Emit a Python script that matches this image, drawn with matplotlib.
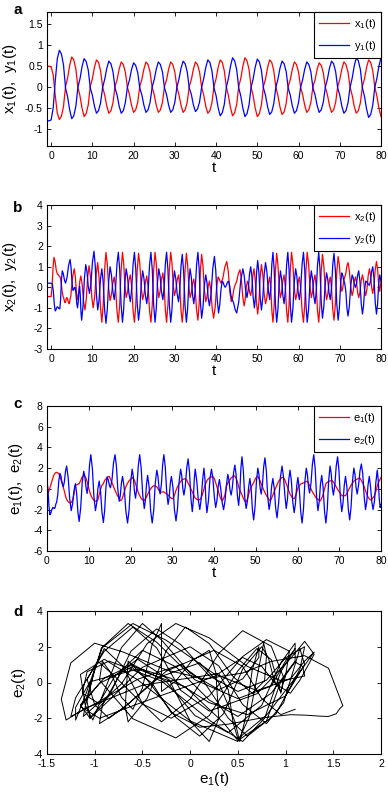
import numpy as np
import matplotlib
matplotlib.use("Agg")
import matplotlib.pyplot as plt
from matplotlib.ticker import FuncFormatter

plt.rcParams["font.family"] = ["Liberation Sans", "DejaVu Sans"]
plt.rcParams["mathtext.fontset"] = "custom"
plt.rcParams["mathtext.rm"] = "Liberation Sans"
plt.rcParams["mathtext.it"] = "Liberation Sans:italic"
plt.rcParams["axes.unicode_minus"] = False

# ------------------------------
# Panel a: x1(t), y1(t), sampled every 0.5 from t=-1 to t=80
# ------------------------------
t_a_start, t_a_step = -1.0, 0.5
x1_vals = [
    0.50, 0.50, 0.48, 0.30, -0.20, -0.62,
    -0.77, -0.69, -0.46, 0.02, 0.22, 0.52, 0.72, 0.65, 0.43, 0.00, -0.21, -0.50,
    -0.70, -0.63, -0.42, 0.02, 0.20, 0.47, 0.65, 0.59, 0.39, 0.00, -0.19, -0.45,
    -0.62, -0.56, -0.37, 0.02, 0.18, 0.43, 0.60, 0.54, 0.36, 0.00, -0.18, -0.43,
    -0.60, -0.54, -0.36, 0.02, 0.18, 0.43, 0.60, 0.54, 0.36, 0.00, -0.18, -0.43,
    -0.60, -0.54, -0.36, 0.02, 0.18, 0.43, 0.60, 0.54, 0.36, 0.00, -0.18, -0.43,
    -0.60, -0.54, -0.36, 0.02, 0.18, 0.43, 0.60, 0.54, 0.36, 0.00, -0.19, -0.45,
    -0.62, -0.56, -0.37, 0.02, 0.20, 0.47, 0.65, 0.59, 0.39, 0.00, -0.20, -0.49,
    -0.68, -0.61, -0.41, 0.02, 0.21, 0.50, 0.70, 0.63, 0.42, 0.00, -0.21, -0.50,
    -0.70, -0.63, -0.42, 0.02, 0.20, 0.47, 0.65, 0.59, 0.39, 0.00, -0.20, -0.47,
    -0.65, -0.59, -0.39, 0.02, 0.18, 0.43, 0.60, 0.54, 0.36, 0.00, -0.18, -0.43,
    -0.60, -0.54, -0.36, 0.02, 0.17, 0.42, 0.58, 0.52, 0.35, 0.00, -0.18, -0.43,
    -0.60, -0.54, -0.36, 0.02, 0.18, 0.43, 0.60, 0.54, 0.36, 0.00, -0.19, -0.45,
    -0.62, -0.56, -0.37, 0.02, 0.20, 0.47, 0.65, 0.59, 0.39, 0.00, -0.21, -0.50,
    -0.70,
]
y1_vals = [
    -0.80, -0.80, -0.78, -0.50, 0.15, 0.68,
    0.88, 0.79, 0.53, -0.02, -0.23, -0.54, -0.75, -0.68, -0.45, 0.00, 0.20, 0.49,
    0.68, 0.61, 0.41, -0.02, -0.19, -0.45, -0.62, -0.56, -0.37, 0.00, 0.19, 0.45,
    0.62, 0.56, 0.37, -0.02, -0.19, -0.45, -0.62, -0.56, -0.37, 0.00, 0.17, 0.42,
    0.58, 0.52, 0.35, -0.02, -0.18, -0.43, -0.60, -0.54, -0.36, 0.00, 0.18, 0.43,
    0.60, 0.54, 0.36, -0.02, -0.18, -0.43, -0.60, -0.54, -0.36, 0.00, 0.19, 0.45,
    0.62, 0.56, 0.37, -0.02, -0.17, -0.42, -0.58, -0.52, -0.35, 0.00, 0.20, 0.47,
    0.65, 0.59, 0.39, -0.02, -0.20, -0.49, -0.68, -0.61, -0.41, 0.00, 0.21, 0.50,
    0.70, 0.63, 0.42, -0.02, -0.21, -0.50, -0.70, -0.63, -0.42, 0.00, 0.20, 0.48,
    0.67, 0.60, 0.40, -0.02, -0.20, -0.47, -0.65, -0.59, -0.39, 0.00, 0.19, 0.45,
    0.62, 0.56, 0.37, -0.02, -0.19, -0.45, -0.62, -0.56, -0.37, 0.00, 0.18, 0.43,
    0.60, 0.54, 0.36, -0.02, -0.18, -0.43, -0.60, -0.54, -0.36, 0.00, 0.19, 0.45,
    0.62, 0.56, 0.37, -0.02, -0.19, -0.45, -0.62, -0.56, -0.37, 0.00, 0.21, 0.50,
    0.70, 0.63, 0.42, -0.02, -0.22, -0.52, -0.72, -0.65, -0.43, 0.00, 0.21, 0.50,
    0.70,
]

# ------------------------------
# Panel b: x2(t), y2(t) as (t, value) points
# ------------------------------
x2_pts = [
    (-1, -0.45), (0, -0.45), (0.23, 0.03), (0.47, 0.98), (0.7, 1.45), (0.97, 1.25),
    (1.23, 0.85), (1.5, 0.65), (1.73, 0.61), (1.97, 0.54), (2.2, 0.5), (2.43, 0.26),
    (2.67, -0.21), (2.9, -0.45), (3.07, -0.53), (3.23, -0.68), (3.4, -0.75), (3.53, -0.69),
    (3.67, -0.56), (3.8, -0.5), (4.0, -0.58), (4.2, -0.73), (4.4, -0.8), (4.8, -0.38),
    (5.2, 0.48), (5.6, 0.9), (5.87, 0.53), (6.13, -0.23), (6.4, -0.6), (6.67, -0.31),
    (6.93, 0.26), (7.2, 0.55), (7.53, 0.14), (7.87, -0.69), (8.2, -1.1), (8.53, -0.56),
    (8.87, 0.51), (9.2, 1.05), (9.53, 0.54), (9.87, -0.49), (10.2, -1.0), (10.57, -0.45),
    (10.93, 0.65), (11.3, 1.2), (11.63, 0.48), (11.97, -0.98), (12.3, -1.7), (12.63, -0.85),
    (12.97, 0.85), (13.3, 1.7), (13.63, 1.11), (13.97, -0.06), (14.3, -0.65), (14.63, -0.36),
    (14.97, 0.21), (15.3, 0.5), (15.63, -0.05), (15.97, -1.15), (16.3, -1.7), (16.63, -0.85),
    (16.97, 0.85), (17.3, 1.7), (17.6, 1.15), (17.9, 0.05), (18.2, -0.5), (18.53, -0.23),
    (18.87, 0.33), (19.2, 0.6), (19.53, 0.03), (19.87, -1.13), (20.2, -1.7), (20.53, -0.86),
    (20.87, 0.81), (21.2, 1.65), (21.53, 1.09), (21.87, -0.04), (22.2, -0.6), (22.53, -0.31),
    (22.87, 0.26), (23.2, 0.55), (23.53, -0.01), (23.87, -1.14), (24.2, -1.7), (24.53, -0.85),
    (24.87, 0.85), (25.2, 1.7), (25.5, 1.15), (25.8, 0.05), (26.1, -0.5), (26.43, -0.2),
    (26.77, 0.4), (27.1, 0.7), (27.4, 0.1), (27.7, -1.1), (28.0, -1.7), (28.33, -0.85),
    (28.67, 0.85), (29.0, 1.7), (29.3, 1.18), (29.6, 0.13), (29.9, -0.4), (30.23, -0.15),
    (30.57, 0.35), (30.9, 0.6), (31.2, 0.03), (31.5, -1.13), (31.8, -1.7), (32.13, -0.86),
    (32.47, 0.81), (32.8, 1.65), (33.1, 1.11), (33.4, 0.04), (33.7, -0.5), (34.0, -0.28),
    (34.3, 0.18), (34.6, 0.4), (34.93, -0.1), (35.27, -1.1), (35.6, -1.6), (35.9, -0.8),
    (36.2, 0.8), (36.5, 1.6), (36.83, 1.03), (37.17, -0.13), (37.5, -0.7), (37.8, -0.45),
    (38.1, 0.05), (38.4, 0.3), (38.73, -0.15), (39.07, -1.05), (39.4, -1.5), (39.77, -1.0),
    (40.13, 0.0), (40.5, 0.5), (40.73, 0.43), (40.97, 0.28), (41.2, 0.2), (41.67, 0.46),
    (42.13, 0.99), (42.6, 1.25), (42.97, 0.76), (43.33, -0.21), (43.7, -0.7), (44.0, -0.5),
    (44.3, -0.1), (44.6, 0.1), (45.0, 0.29), (45.4, 0.66), (45.8, 0.85), (46.13, 0.41),
    (46.47, -0.46), (46.8, -0.9), (47.07, -0.6), (47.33, 0.0), (47.6, 0.3), (47.87, 0.13),
    (48.13, -0.23), (48.4, -0.4), (48.67, -0.08), (48.93, 0.58), (49.2, 0.9), (49.5, 0.35),
    (49.8, -0.75), (50.1, -1.3), (50.4, -0.7), (50.7, 0.5), (51.0, 1.1), (51.33, 0.63),
    (51.67, -0.33), (52.0, -0.8), (52.33, -0.48), (52.67, 0.18), (53.0, 0.5), (53.27, -0.05),
    (53.53, -1.15), (53.8, -1.7), (54.1, -0.86), (54.4, 0.81), (54.7, 1.65), (55.0, 1.11),
    (55.3, 0.04), (55.6, -0.5), (55.9, -0.23), (56.2, 0.33), (56.5, 0.6), (56.8, 0.03),
    (57.1, -1.13), (57.4, -1.7), (57.7, -0.85), (58.0, 0.85), (58.3, 1.7), (58.63, 1.13),
    (58.97, -0.03), (59.3, -0.6), (59.6, -0.33), (59.9, 0.23), (60.2, 0.5), (60.53, -0.05),
    (60.87, -1.15), (61.2, -1.7), (61.5, -0.85), (61.8, 0.85), (62.1, 1.7), (62.43, 1.15),
    (62.77, 0.05), (63.1, -0.5), (63.4, -0.23), (63.7, 0.33), (64.0, 0.6), (64.3, 0.03),
    (64.6, -1.13), (64.9, -1.7), (65.2, -0.88), (65.5, 0.78), (65.8, 1.6), (66.13, 1.05),
    (66.47, -0.05), (66.8, -0.6), (67.1, -0.33), (67.4, 0.23), (67.7, 0.5), (68.0, -0.03),
    (68.3, -1.08), (68.6, -1.6), (68.93, -0.83), (69.27, 0.73), (69.6, 1.5), (69.9, 1.08),
    (70.2, 0.23), (70.5, -0.2), (70.73, -0.03), (70.97, 0.33), (71.2, 0.5), (71.47, 0.68),
    (71.73, 1.03), (72.0, 1.2), (72.33, 0.8), (72.67, 0.0), (73.0, -0.4), (73.27, -0.18),
    (73.53, 0.28), (73.8, 0.5), (74.07, 0.25), (74.33, -0.25), (74.6, -0.5), (74.9, -0.23),
    (75.2, 0.33), (75.5, 0.6), (75.77, 0.35), (76.03, -0.15), (76.3, -0.4), (76.6, -0.08),
    (76.9, 0.58), (77.2, 0.9), (77.47, 0.6), (77.73, 0.0), (78.0, -0.3), (78.3, 0.09),
    (78.6, 0.86), (78.9, 1.25), (79.17, 0.89), (79.43, 0.16), (79.7, -0.2), (80.0, 0.3),
]
y2_pts = [
    (-1, 0.2), (0, 0.2), (0.3, 0.15), (0.53, -0.18), (0.77, -0.83), (1.0, -1.15),
    (1.17, -1.1), (1.33, -1.0), (1.5, -0.95), (1.7, -0.98), (1.9, -1.03), (2.1, -1.05),
    (2.3, -0.59), (2.5, 0.34), (2.7, 0.8), (2.97, 0.65), (3.23, 0.35), (3.5, 0.2),
    (3.87, 0.49), (4.23, 1.06), (4.6, 1.35), (4.83, 0.98), (5.07, 0.23), (5.3, -0.15),
    (5.47, -0.11), (5.63, -0.04), (5.8, 0.0), (6.0, -0.25), (6.2, -0.75), (6.4, -1.0),
    (6.57, -0.74), (6.73, -0.21), (6.9, 0.05), (7.07, -0.36), (7.23, -1.19), (7.4, -1.6),
    (7.73, -0.93), (8.07, 0.43), (8.4, 1.1), (8.7, 0.75), (9.0, 0.05), (9.3, -0.3),
    (9.67, 0.21), (10.03, 1.24), (10.4, 1.75), (10.7, 1.04), (11.0, -0.39), (11.3, -1.1),
    (11.63, -0.6), (11.97, 0.4), (12.3, 0.9), (12.63, 0.24), (12.97, -1.09), (13.3, -1.75),
    (13.63, -1.06), (13.97, 0.31), (14.3, 1.0), (14.63, 0.6), (14.97, -0.2), (15.3, -0.6),
    (15.63, -0.03), (15.97, 1.13), (16.3, 1.7), (16.63, 0.85), (16.97, -0.85), (17.3, -1.7),
    (17.6, -1.05), (17.9, 0.25), (18.2, 0.9), (18.53, 0.5), (18.87, -0.3), (19.2, -0.7),
    (19.53, -0.1), (19.87, 1.1), (20.2, 1.7), (20.53, 0.88), (20.87, -0.78), (21.2, -1.6),
    (21.53, -1.0), (21.87, 0.2), (22.2, 0.8), (22.53, 0.4), (22.87, -0.4), (23.2, -0.8),
    (23.53, -0.18), (23.87, 1.08), (24.2, 1.7), (24.53, 0.85), (24.87, -0.85), (25.2, -1.7),
    (25.5, -1.05), (25.8, 0.25), (26.1, 0.9), (26.43, 0.53), (26.77, -0.23), (27.1, -0.6),
    (27.4, -0.03), (27.7, 1.13), (28.0, 1.7), (28.33, 0.85), (28.67, -0.85), (29.0, -1.7),
    (29.3, -1.08), (29.6, 0.18), (29.9, 0.8), (30.23, 0.43), (30.57, -0.33), (30.9, -0.7),
    (31.2, -0.13), (31.5, 1.03), (31.8, 1.6), (32.13, 0.78), (32.47, -0.88), (32.8, -1.7),
    (33.1, -1.05), (33.4, 0.25), (33.7, 0.9), (34.0, 0.48), (34.3, -0.38), (34.6, -0.8),
    (34.93, -0.18), (35.27, 1.08), (35.6, 1.7), (35.9, 0.9), (36.2, -0.7), (36.5, -1.5),
    (36.83, -0.98), (37.17, 0.08), (37.5, 0.6), (37.8, 0.23), (38.1, -0.53), (38.4, -0.9),
    (38.8, -0.3), (39.2, 0.9), (39.6, 1.5), (39.93, 0.81), (40.27, -0.56), (40.6, -1.25),
    (40.9, -0.86), (41.2, -0.09), (41.5, 0.3), (41.73, 0.23), (41.97, 0.08), (42.2, 0.0),
    (42.47, 0.08), (42.73, 0.23), (43.0, 0.3), (43.3, 0.08), (43.6, -0.38), (43.9, -0.6),
    (44.27, -0.76), (44.63, -1.09), (45.0, -1.25), (45.5, -0.71), (46.0, 0.36), (46.5, 0.9),
    (46.83, 0.55), (47.17, -0.15), (47.5, -0.5), (47.8, -0.13), (48.1, 0.63), (48.4, 1.0),
    (48.7, 0.5), (49.0, -0.5), (49.3, -1.0), (49.57, -0.43), (49.83, 0.73), (50.1, 1.3),
    (50.4, 0.7), (50.7, -0.5), (51.0, -1.1), (51.33, -0.53), (51.67, 0.63), (52.0, 1.2),
    (52.33, 0.75), (52.67, -0.15), (53.0, -0.6), (53.27, -0.03), (53.53, 1.13), (53.8, 1.7),
    (54.1, 0.85), (54.4, -0.85), (54.7, -1.7), (55.0, -1.08), (55.3, 0.18), (55.6, 0.8),
    (55.9, 0.4), (56.2, -0.4), (56.5, -0.8), (56.8, -0.18), (57.1, 1.08), (57.4, 1.7),
    (57.7, 0.85), (58.0, -0.85), (58.3, -1.7), (58.63, -1.05), (58.97, 0.25), (59.3, 0.9),
    (59.6, 0.53), (59.9, -0.23), (60.2, -0.6), (60.53, -0.03), (60.87, 1.13), (61.2, 1.7),
    (61.5, 0.85), (61.8, -0.85), (62.1, -1.7), (62.43, -1.08), (62.77, 0.18), (63.1, 0.8),
    (63.4, 0.4), (63.7, -0.4), (64.0, -0.8), (64.3, -0.18), (64.6, 1.08), (64.9, 1.7),
    (65.2, 0.9), (65.5, -0.7), (65.8, -1.5), (66.13, -0.95), (66.47, 0.15), (66.8, 0.7),
    (67.1, 0.38), (67.4, -0.28), (67.7, -0.6), (68.0, -0.04), (68.3, 1.09), (68.6, 1.65),
    (68.93, 0.84), (69.27, -0.79), (69.6, -1.6), (69.9, -1.03), (70.2, 0.13), (70.5, 0.7),
    (70.73, 0.58), (70.97, 0.33), (71.2, 0.2), (71.47, -0.2), (71.73, -1.0), (72.0, -1.4),
    (72.33, -0.9), (72.67, 0.1), (73.0, 0.6), (73.27, 0.45), (73.53, 0.15), (73.8, 0.0),
    (74.07, 0.2), (74.33, 0.6), (74.6, 0.8), (74.9, 0.28), (75.2, -0.78), (75.5, -1.3),
    (75.77, -0.9), (76.03, -0.1), (76.3, 0.3), (76.6, 0.25), (76.9, 0.15), (77.2, 0.1),
    (77.47, 0.33), (77.73, 0.78), (78.0, 1.0), (78.3, 0.43), (78.6, -0.73), (78.9, -1.3),
    (79.17, -0.83), (79.43, 0.13), (79.7, 0.6), (80.0, 0.3),
]

# ------------------------------
# Panels c and d: errors as (t, e1, e2)
# ------------------------------
err_pts = [
    (0.0, -0.6, 0.8), (0.23, -0.4, -0.03), (0.47, -0.2, -1.68), (0.7, 0.1, -2.5),
    (0.93, 0.4, -2.33), (1.17, 0.75, -1.98), (1.4, 1.05, -1.8), (1.53, 1.22, -1.83),
    (1.67, 1.35, -1.88), (1.8, 1.45, -1.9), (1.97, 1.53, -1.75), (2.13, 1.57, -1.45),
    (2.3, 1.6, -1.3), (2.57, 1.55, -0.6), (2.83, 1.45, 0.8), (3.1, 1.2, 1.5),
    (3.37, 0.85, 1.18), (3.63, 0.55, 0.53), (3.9, 0.15, 0.2), (4.17, -0.25, 0.7),
    (4.43, -0.7, 1.7), (4.7, -1.0, 2.2), (5.07, -1.25, 1.1), (5.43, -1.35, -0.93),
    (5.8, -1.3, -2.1), (6.13, -1.1, -1.45), (6.47, -0.5, -0.15), (6.8, 0.3, 0.5),
    (7.1, 0.4, -0.41), (7.4, 0.45, -2.24), (7.7, 0.5, -3.15), (8.07, 0.8, -1.83),
    (8.43, 1.15, 0.6), (8.8, 1.3, 1.7), (9.07, 1.2, 1.2), (9.33, 1.05, 0.2),
    (9.6, 0.7, -0.45), (9.9, 0.25, 0.49), (10.2, -0.25, 2.36), (10.5, -0.6, 3.3),
    (10.87, -0.92, 1.95), (11.23, -1.1, -0.75), (11.6, -1.2, -2.1), (11.9, -1.2, -1.39),
    (12.2, -1.05, 0.04), (12.5, -0.55, 0.75), (12.83, -0.05, -0.25), (13.17, 0.35, -2.25),
    (13.5, 0.5, -3.25), (13.8, 0.8, -2.15), (14.1, 0.95, 0.05), (14.4, 1.1, 1.15),
    (14.67, 1.18, 0.89), (14.93, 1.2, 0.36), (15.2, 0.95, 0.1), (15.57, 0.6, 0.9),
    (15.93, 0.2, 2.5), (16.3, -0.15, 3.3), (16.63, -0.45, 2.18), (16.97, -0.72, -0.08),
    (17.3, -0.95, -1.2), (17.57, -1.13, -0.6), (17.83, -1.08, 0.6), (18.1, -0.85, 1.2),
    (18.5, -0.3, 0.08), (18.9, 0.22, -2.18), (19.3, 0.55, -3.3), (19.67, 0.78, -2.0),
    (20.03, 0.95, 0.6), (20.4, 1.1, 1.9), (20.67, 1.0, 1.2), (20.93, 0.85, -0.2),
    (21.2, 0.5, -0.9), (21.53, 0.05, 0.15), (21.87, -0.35, 2.25), (22.2, -0.65, 3.3),
    (22.57, -0.93, 1.93), (22.93, -1.07, -0.6), (23.3, -1.12, -1.9), (23.57, -0.95, -1.1),
    (23.83, -0.78, 0.43), (24.1, -0.55, 1.3), (24.47, -0.22, 0.15), (24.83, 0.0, -2.15),
    (25.2, 0.2, -3.3), (25.57, 0.3, -2.03), (25.93, 0.27, 0.53), (26.3, 0.2, 1.8),
    (26.57, 0.02, 1.23), (26.83, -0.15, 0.08), (27.1, -0.3, -0.5), (27.4, -0.3, 0.45),
    (27.7, -0.3, 2.35), (28.0, -0.3, 3.3), (28.33, -0.4, 2.1), (28.67, -0.5, -0.3),
    (29.0, -0.6, -1.5), (29.27, -0.72, -0.83), (29.53, -0.83, 0.53), (29.8, -0.92, 1.2),
    (30.17, -0.95, 0.13), (30.53, -0.6, -2.03), (30.9, -0.15, -3.1), (31.27, 0.2, -1.85),
    (31.63, 0.5, 0.65), (32.0, 0.7, 1.9), (32.27, 0.85, 1.28), (32.53, 0.92, 0.03),
    (32.8, 0.95, -0.6), (33.13, 0.98, 0.28), (33.47, 0.85, 2.03), (33.8, 0.55, 2.9),
    (34.13, 0.3, 1.63), (34.47, 0.0, -0.93), (34.8, -0.3, -2.2), (35.03, -0.5, -1.18),
    (35.27, -0.7, 0.88), (35.5, -0.9, 1.9), (35.87, -1.0, 0.78), (36.23, -1.08, -1.05),
    (36.6, -1.05, -2.0), (36.93, -0.85, -1.0), (37.27, -0.5, 0.85), (37.6, 0.0, 2.0),
    (37.83, 0.3, 0.93), (38.07, 0.55, -1.23), (38.3, 0.8, -2.3), (38.67, 0.98, -1.13),
    (39.03, 1.1, 1.0), (39.4, 1.15, 1.9), (39.73, 1.2, 1.0), (40.07, 1.0, -0.75),
    (40.4, 0.6, -1.8), (40.7, 0.2, -1.13), (41.0, -0.2, 0.23), (41.3, -0.6, 0.9),
    (41.63, -0.95, -0.05), (41.97, -1.15, -1.35), (42.3, -0.95, -2.0), (42.63, -0.55, -1.2),
    (42.97, 0.25, 0.33), (43.3, 0.55, 1.4), (43.57, 0.75, 0.9), (43.83, 0.9, -0.1),
    (44.1, 1.05, -0.6), (44.4, 1.15, 0.13), (44.7, 1.3, 1.58), (45.0, 1.2, 2.3),
    (45.3, 1.05, 1.33), (45.6, 0.7, -0.63), (45.9, 0.2, -1.6), (46.17, -0.1, -0.43),
    (46.43, -0.35, 1.93), (46.7, -0.6, 3.1), (47.03, -0.9, 1.75), (47.37, -1.2, -0.85),
    (47.7, -1.25, -1.9), (48.0, -1.0, -1.2), (48.3, -0.55, 0.18), (48.6, -0.1, 1.0),
    (48.9, 0.15, 0.0), (49.2, 0.4, -2.0), (49.5, 0.6, -3.0), (49.83, 0.9, -1.75),
    (50.17, 1.15, 0.75), (50.5, 1.2, 2.0), (50.77, 1.0, 1.38), (51.03, 0.8, 0.13),
    (51.3, 0.5, -0.5), (51.6, 0.2, 0.38), (51.9, -0.1, 2.13), (52.2, -0.35, 3.0),
    (52.53, -0.62, 1.75), (52.87, -0.85, -0.75), (53.2, -1.05, -2.0), (53.5, -1.15, -1.25),
    (53.8, -0.9, 0.25), (54.1, -0.6, 1.0), (54.43, -0.25, 0.05), (54.77, 0.05, -1.85),
    (55.1, 0.4, -2.8), (55.5, 0.75, -1.28), (55.9, 0.95, 1.1), (56.3, 1.1, 2.2),
    (56.63, 1.1, 1.2), (56.97, 0.85, -0.6), (57.3, 0.5, -1.9), (57.6, 0.2, -0.98),
    (57.9, -0.15, 0.88), (58.2, -0.5, 1.8), (58.53, -0.7, 0.78), (58.87, -0.92, -1.28),
    (59.2, -0.95, -2.3), (59.5, -0.7, -1.45), (59.8, -0.35, 0.25), (60.1, 0.1, 1.1),
    (60.43, 0.3, 0.0), (60.77, 0.47, -2.2), (61.1, 0.52, -3.3), (61.43, 0.58, -1.98),
    (61.77, 0.65, 0.68), (62.1, 0.72, 2.0), (62.37, 0.72, 1.4), (62.63, 0.55, 0.2),
    (62.9, 0.3, -0.4), (63.23, 0.0, 0.53), (63.57, -0.3, 2.38), (63.9, -0.5, 3.3),
    (64.23, -0.72, 1.95), (64.57, -0.92, -0.75), (64.9, -1.02, -2.1), (65.2, -1.1, -1.25),
    (65.5, -1.15, 0.45), (65.8, -0.9, 1.3), (66.13, -0.55, 0.15), (66.47, 0.0, -2.15),
    (66.8, 0.5, -3.3), (67.13, 0.62, -1.93), (67.47, 0.72, 0.83), (67.8, 0.77, 2.2),
    (68.07, 0.8, 1.5), (68.33, 0.78, 0.1), (68.6, 0.65, -0.6), (68.93, 0.45, 0.33),
    (69.27, 0.2, 2.18), (69.6, -0.05, 3.1), (69.93, -0.25, 1.78), (70.27, -0.45, -0.88),
    (70.6, -0.65, -2.2), (70.9, -0.68, -1.35), (71.2, -0.66, 0.35), (71.5, -0.65, 1.2),
    (71.83, -0.45, 0.15), (72.17, -0.15, -1.95), (72.5, 0.1, -3.0), (72.83, 0.35, -1.75),
    (73.17, 0.55, 0.75), (73.5, 0.75, 2.0), (73.77, 0.82, 1.38), (74.03, 0.88, 0.13),
    (74.3, 0.95, -0.5), (74.63, 1.0, 0.38), (74.97, 1.04, 1.75), (75.3, 0.8, 2.4),
    (75.63, 0.55, 1.45), (75.97, 0.2, -0.75), (76.3, -0.2, -2.0), (76.6, -0.5, -1.2),
    (76.9, -0.8, 0.4), (77.2, -0.97, 1.2), (77.5, -1.08, 0.18), (77.8, -1.0, -1.25),
    (78.1, -0.85, -2.0), (78.43, -0.65, -1.2), (78.77, -0.25, 0.63), (79.1, 0.25, 1.8),
    (79.33, 0.55, 0.9), (79.57, 0.75, -0.9), (79.8, 0.95, -1.8), (80.0, 1.1, -1.5),
]

t_ticks = [0, 10, 20, 30, 40, 50, 60, 70, 80]

t_x2, x2_vals = np.array(x2_pts).T
t_y2, y2_vals = np.array(y2_pts).T
t_c, e1_vals, e2_vals = np.array(err_pts).T
t_a = t_a_start + t_a_step * np.arange(len(x1_vals))


def style_axes(ax):
    ax.tick_params(direction="in", top=True, right=True, length=3, width=0.6,
                   labelsize=7.5)
    ax.tick_params(axis="x", pad=3.6)
    ax.tick_params(axis="y", pad=3)
    for s in ax.spines.values():
        s.set_linewidth(0.8)
    fmt = FuncFormatter(lambda v, p: "%g" % v)
    ax.xaxis.set_major_formatter(fmt)
    ax.yaxis.set_major_formatter(fmt)


def add_legend(ax, labels):
    leg = ax.legend(labels, loc="upper right", borderaxespad=0, fancybox=False,
                    edgecolor="k", framealpha=1, fontsize=8, handlelength=2.7,
                    handletextpad=0.4, labelspacing=0.7, borderpad=0.45)
    leg.get_frame().set_linewidth(0.8)


fig = plt.figure(figsize=(3.88, 7.93), dpi=100)
W, H = 388.0, 793.0


def box(top, bottom, left=47, right=381):
    return [left / W, 1 - bottom / H, (right - left) / W, (bottom - top) / H]


# a
ax = fig.add_axes(box(12, 146))
ax.plot(t_a, x1_vals, color="r", lw=0.9)
ax.plot(t_a, y1_vals, color="b", lw=0.9)
ax.set_xlim(-1, 80)
ax.set_ylim(-1.4, 1.79)
ax.set_xticks(t_ticks)
ax.set_yticks([-1, -0.5, 0, 0.5, 1, 1.5])
style_axes(ax)
add_legend(ax, [r"x$_1$(t)", r"y$_1$(t)"])
ax.set_xlabel("t", fontsize=11)
ax.xaxis.set_label_coords(0.5, -0.115)
ax.set_ylabel(r"x$_1$(t),  y$_1$(t)", fontsize=11)
ax.yaxis.set_label_coords(-0.085, 0.5)
fig.text(13 / W, 1 - 14 / H, "a", fontsize=11, fontweight="bold")

# b
ax = fig.add_axes(box(205, 349))
ax.plot(t_x2, x2_vals, color="r", lw=0.9)
ax.plot(t_y2, y2_vals, color="b", lw=0.9)
ax.set_xlim(-1, 80)
ax.set_ylim(-3, 4)
ax.set_xticks(t_ticks)
ax.set_yticks([-3, -2, -1, 0, 1, 2, 3, 4])
style_axes(ax)
add_legend(ax, [r"x$_2$(t)", r"y$_2$(t)"])
ax.set_xlabel("t", fontsize=11)
ax.xaxis.set_label_coords(0.5, -0.105)
ax.set_ylabel(r"x$_2$(t),  y$_2$(t)", fontsize=11)
ax.yaxis.set_label_coords(-0.085, 0.5)
fig.text(13 / W, 1 - 212 / H, "b", fontsize=11, fontweight="bold")

# c
ax = fig.add_axes(box(406, 551))
ax.plot(t_c, e1_vals, color="r", lw=0.9)
ax.plot(t_c, e2_vals, color="b", lw=0.9)
ax.set_xlim(0, 80)
ax.set_ylim(-6, 8)
ax.set_xticks(t_ticks)
ax.set_yticks([-6, -4, -2, 0, 2, 4, 6, 8])
style_axes(ax)
add_legend(ax, [r"e$_1$(t)", r"e$_2$(t)"])
ax.set_xlabel("t", fontsize=11)
ax.xaxis.set_label_coords(0.5, -0.105)
ax.set_ylabel(r"e$_1$(t),  e$_2$(t)", fontsize=11)
ax.yaxis.set_label_coords(-0.066, 0.5)
fig.text(13 / W, 1 - 408 / H, "c", fontsize=11, fontweight="bold")

# d
ax = fig.add_axes(box(611, 754))
ax.plot(e1_vals, e2_vals, color="k", lw=0.7)
ax.set_xlim(-1.5, 2)
ax.set_ylim(-4, 4)
ax.set_xticks([-1.5, -1, -0.5, 0, 0.5, 1, 1.5, 2])
ax.set_yticks([-4, -2, 0, 2, 4])
style_axes(ax)
ax.set_xlabel(r"e$_1$(t)", fontsize=11)
ax.xaxis.set_label_coords(0.5, -0.115)
ax.set_ylabel(r"e$_2$(t)", fontsize=11)
ax.yaxis.set_label_coords(-0.057, 0.5)
fig.text(13 / W, 1 - 616 / H, "d", fontsize=11, fontweight="bold")

fig.savefig("out.png", dpi=100, facecolor="white")
